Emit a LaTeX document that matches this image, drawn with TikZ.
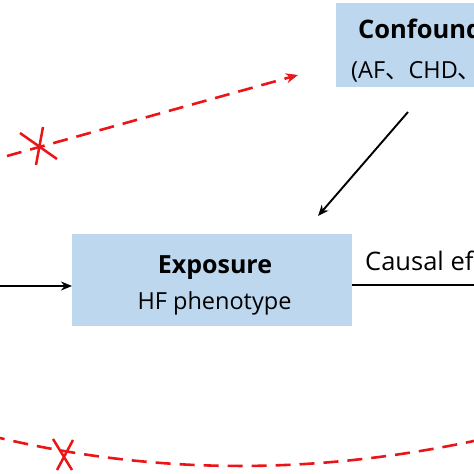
\documentclass[tikz,border=0pt]{standalone}
\usepackage{fontspec}
\setmainfont{Open Sans}
\newfontfamily\cjk{Noto Sans CJK SC}
\usetikzlibrary{arrows.meta}
\definecolor{boxblue}{RGB}{189,215,238}
\definecolor{dashred}{RGB}{235,20,22}
\tikzset{
  varbox/.style  = {shape=rectangle, fill=boxblue, inner sep=0pt},
  boxtext/.style = {inner sep=0pt, font=\fontsize{24}{30}\selectfont},
  conn/.style    = {line width=1.9pt, -{Stealth[length=11pt,width=9pt]}},
  bias/.style    = {draw=dashred, line width=2.6pt, dash pattern=on 15pt off 9pt},
  cross/.style   = {draw=dashred, line width=2.5pt}
}
\begin{document}
\begin{tikzpicture}[x=1pt,y=-1pt]
  \useasboundingbox (0,0) rectangle (474,474);
  \clip (0,0) rectangle (474,474);

  % boxes
  \node [varbox, minimum width=160pt, minimum height=84pt, anchor=north west] (conf) at (336,3) {};
  \node [boxtext, anchor=base west, font=\fontsize{25.5}{30}\selectfont\bfseries] (conftitle) at (358,38) {Confound};
  \node [boxtext, anchor=base west, font=\fontsize{23.5}{28}\selectfont] (conflist) at (351,78) {(AF{\cjk 、}CHD{\cjk 、}};

  \node [varbox, minimum width=280pt, minimum height=92pt, anchor=north west] (exp) at (72,234) {};
  \node [boxtext, anchor=base, font=\fontsize{25}{30}\selectfont\bfseries] (exptitle) at (215,273) {Exposure};
  \node [boxtext, anchor=base, font=\fontsize{23.5}{30}\selectfont] (expsub) at (214.5,309) {HF phenotype};

  \node [boxtext, anchor=base west, font=\fontsize{25.5}{30}\selectfont] (effect) at (365,270) {Causal ef};

  % arrows
  \coordinate (inL) at (-2,286);
  \coordinate (outR) at (480,285);
  \draw [conn] (inL) -- (inL -| exp.west);
  \draw [line width=1.9pt] (exp.east |- outR) -- (outR);

  \coordinate (confout) at (408,112);
  \coordinate (expin) at (318,216);
  \draw [conn] (confout) -- (expin);

  % broken paths
  \coordinate (biasA) at (7,156);
  \coordinate (biasB) at (298,75);
  \draw [bias, -{Stealth[length=12pt,width=10pt]}] (biasA) -- (biasB);
  \draw [cross] (20,133) -- (57,159) (43,127) -- (36,165);

  \coordinate (biasC) at (-10,435.6);
  \coordinate (biasD) at (484,438.8);
  \draw [bias] (biasC) .. controls (150,475) and (314,476) .. (biasD);
  \draw [cross] (53,439) -- (72,470) (73,440) -- (57,470);
\end{tikzpicture}
\end{document}
